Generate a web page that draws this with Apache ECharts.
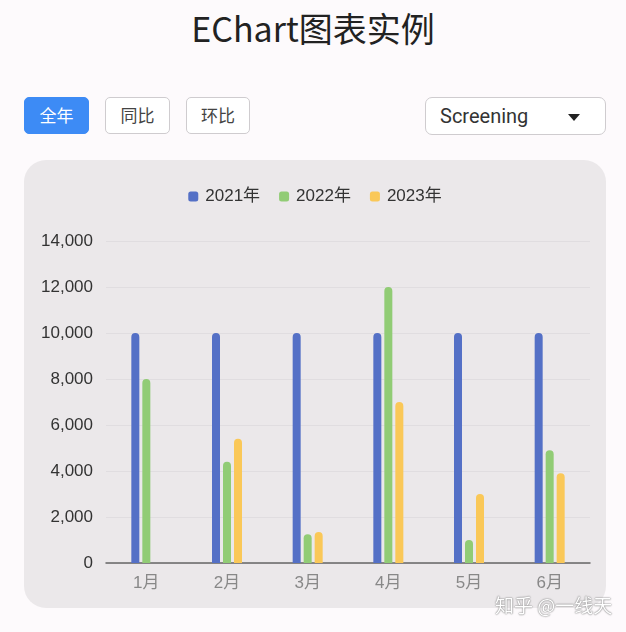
<!DOCTYPE html>
<html><head><meta charset="utf-8">
<script src="https://cdn.jsdelivr.net/npm/echarts@6/dist/echarts.min.js"></script>
<style>
html,body{margin:0;padding:0;width:626px;height:632px;background:#fdfafc;overflow:hidden;font-family:Roboto,"Noto Sans CJK SC",sans-serif;}
#title{position:absolute;left:0;top:5px;width:626px;text-align:center;font-size:34px;color:#222;font-family:"Noto Sans CJK SC",sans-serif;line-height:46px;}
.btn{position:absolute;top:97px;height:37px;width:63px;box-sizing:border-box;border:1.5px solid #cfcccf;border-radius:5px;background:#fff;color:#444;font-size:17px;line-height:34px;text-align:center;font-family:"Noto Sans CJK SC",sans-serif;}
.btn.active{background:#3d8bf5;border-color:#3d8bf5;color:#fff;}
#sel{position:absolute;left:425px;top:97px;width:181px;height:38px;box-sizing:border-box;border:1.5px solid #cfcccf;border-radius:7px;background:#fff;color:#333;font-size:20px;line-height:37px;padding-left:14px;font-family:Roboto,sans-serif;}
#tri{position:absolute;left:142px;top:16px;width:0;height:0;border-left:6px solid transparent;border-right:6px solid transparent;border-top:7px solid #222;}
#panel{position:absolute;left:24px;top:160px;width:582px;height:448px;border-radius:22px;background:#ebe8ea;}
#chart{position:absolute;left:0;top:0;width:582px;height:448px;}
#wm{position:absolute;left:495px;top:591px;font-size:19px;color:#fff;text-shadow:0 0 2px #888,0 0 1px #666;font-family:"Noto Sans CJK SC",sans-serif;}
</style></head>
<body>
<div id="title">EChart图表实例</div>
<div class="btn active" style="left:24px;width:65px;">全年</div>
<div class="btn" style="left:105px;width:65px;">同比</div>
<div class="btn" style="left:186px;width:64px;">环比</div>
<div id="sel">Screening<div id="tri"></div></div>
<div id="panel"><div id="chart"></div></div>
<div id="wm">知乎 @一线天</div>
<script>
var categories = ['1月','2月','3月','4月','5月','6月'];
var seriesNames = ['2021年','2022年','2023年'];
var data2021 = [10000, 10000, 10000, 10000, 10000, 10000];
var data2022 = [8000, 4400, 1250, 12000, 1000, 4900];
var data2023 = [0, 5400, 1350, 7000, 3000, 3900];
var colors = ['#5470c6','#91cc75','#fac858'];

var chart = echarts.init(document.getElementById('chart'), null, {renderer:'canvas'});
var allData = [data2021, data2022, data2023];
var series = seriesNames.map(function(n,i){
  return {name:n,type:'bar',data:allData[i],barWidth:8,barGap:'37.5%',
    itemStyle:{color:colors[i],borderRadius:[4,4,0,0]}};
});
var latin = '"Liberation Sans","Noto Sans CJK SC",sans-serif';
chart.setOption({
  animation:false,
  color:colors,
  legend:{top:23,left:'center',itemWidth:10,itemHeight:10,itemGap:19,
    icon:'roundRect',
    textStyle:{fontSize:17,color:'#333',fontFamily:latin,padding:[0,0,0,2]},
    data:seriesNames},
  grid:{left:82,right:16,top:81,bottom:45},
  xAxis:{type:'category',data:categories,
    axisLine:{lineStyle:{color:'#666',width:1.5}},
    axisTick:{show:false},
    axisLabel:{fontSize:17,color:'#888',margin:12,fontFamily:latin}},
  yAxis:{type:'value',min:0,max:14000,interval:2000,
    axisLabel:{fontSize:17,color:'#333',margin:13,fontFamily:latin,
      formatter:function(v){return v.toLocaleString('en-US');}},
    splitLine:{lineStyle:{color:'#e0dde0'}}},
  series:series
});
</script>
</body></html>
